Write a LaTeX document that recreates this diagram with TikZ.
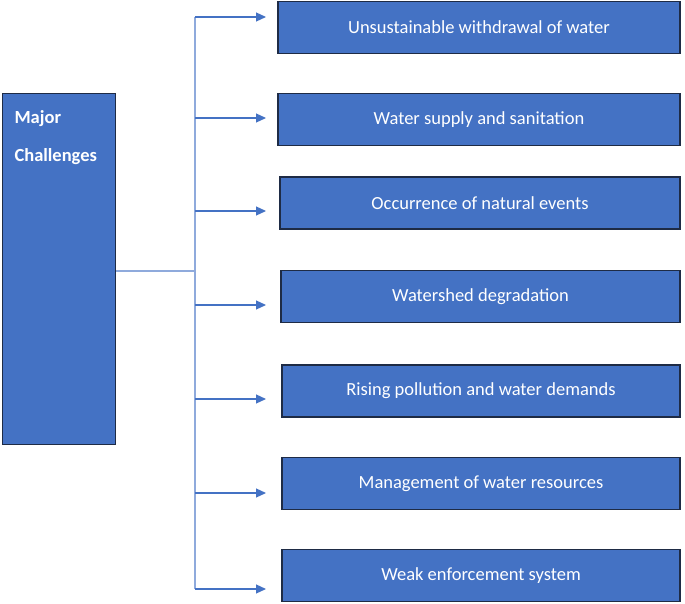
\documentclass[tikz,border=0pt]{standalone}
\usepackage{fontspec}
\setmainfont{Carlito}
\usetikzlibrary{arrows.meta}
\definecolor{boxblue}{HTML}{4472C4}
\definecolor{boxedge}{HTML}{1E2B45}
\definecolor{lineblue}{HTML}{8FAADC}
\begin{document}
\begin{tikzpicture}[
  x=1pt, y=-1pt,
  challenge/.style={draw=boxedge, line width=1.2pt, fill=boxblue, text=white,
    minimum width=400pt, minimum height=52pt, font=\fontsize{18.5}{22}\selectfont},
  feed/.style={-{Triangle[length=10pt,width=9pt]}, draw=boxblue, line width=1.2pt}
]
\useasboundingbox (0,0) rectangle (685,604);
% left block
\node[draw=boxedge, line width=1.2pt, fill=boxblue, minimum width=113pt,
  minimum height=351pt, anchor=north west] (major) at (2,93) {};
\node[anchor=west, text=white, font=\bfseries\fontsize{18.5}{22}\selectfont] (lbla) at (11,119) {Major};
\node[anchor=west, text=white, font=\bfseries\fontsize{18.5}{22}\selectfont] (lblb) at (11,157) {Challenges};
% spine
\coordinate (join) at (195,271);
\coordinate (top) at (195,17);
\coordinate (bot) at (195,589);
\draw[lineblue, line width=1.2pt] (major.east |- join) -- (join);
\draw[lineblue, line width=1.5pt] (top) -- (bot);
% boxes
\node[challenge, minimum width=402pt] (c1) at (479,27.5) {Unsustainable withdrawal of water};
\node[challenge, minimum width=402pt] (c2) at (479,119.5) {Water supply and sanitation};
\node[challenge] (c3) at (480,203) {Occurrence of natural events};
\node[challenge, minimum width=399pt] (c4) at (480.5,296.5) {Watershed degradation};
\node[challenge, minimum width=398pt] (c5) at (481,391) {Rising pollution and water demands};
\node[challenge, minimum width=398pt] (c6) at (481,483.5) {Management of water resources};
\node[challenge, minimum width=398pt] (c7) at (481,575.5) {Weak enforcement system};
% arrows
\foreach \i/\yy in {1/17,2/118,3/211,4/305,5/399,6/493,7/589}{
  \coordinate (s\i) at (195,\yy);
  \coordinate (t\i) at (266,\yy);
  \draw[feed] (s\i) -- (t\i);
}
\end{tikzpicture}
\end{document}
